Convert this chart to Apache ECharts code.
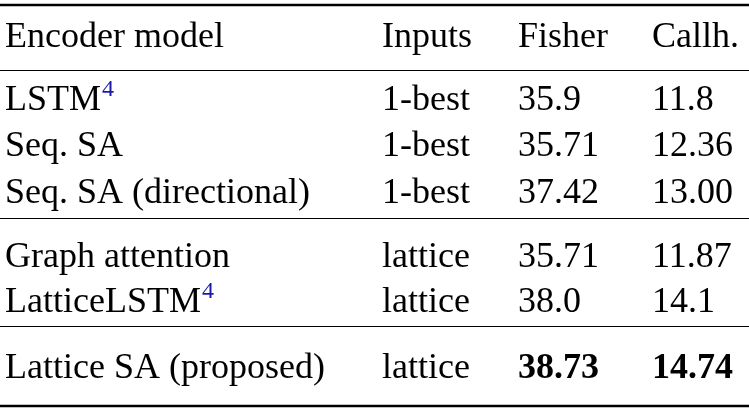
<!DOCTYPE html>
<html><head><meta charset="utf-8">
<script src="https://cdn.jsdelivr.net/npm/echarts@6/dist/echarts.min.js"></script>
<style>html,body{margin:0;padding:0;background:#fff}#c{width:749px;height:412px}</style>
</head><body><div id="c"></div>
<script>
const headers = ["Encoder model", "Inputs", "Fisher", "Callh."];
const models = ["LSTM", "Seq. SA", "Seq. SA (directional)", "Graph attention", "LatticeLSTM", "Lattice SA (proposed)"];
const footnotes = ["4", "", "", "", "4", ""];
const inputs = ["1-best", "1-best", "1-best", "lattice", "lattice", "lattice"];
const fisher = ["35.9", "35.71", "37.42", "35.71", "38.0", "38.73"];
const callh = ["11.8", "12.36", "13.00", "11.87", "14.1", "14.74"];
const boldRows = [5];

const FONT = "Liberation Serif";
const FS = 36;
const colX = [5, 382, 518, 652];
const headerY = 38;
const rowY = [101, 147, 194, 258, 303, 369];
const rules = [[5, 2.4], [70.5, 1.2], [218.5, 1.2], [326.5, 1.2], [406, 2.4]];

const ctx = document.createElement('canvas').getContext('2d');
function w(t, bold){ ctx.font = (bold?'bold ':'') + FS + 'px "' + FONT + '"'; return ctx.measureText(t).width; }

const g = [];
function txt(x, y, t, bold){
  g.push({type:'text', x:x, y:y, style:{text:t, font:(bold?'bold ':'')+FS+'px "'+FONT+'"', fill:'#000', textVerticalAlign:'middle'}});
}
headers.forEach((h,i)=>txt(colX[i], headerY, h, false));
models.forEach((m,r)=>{
  const b = boldRows.includes(r);
  txt(colX[0], rowY[r], m, false);
  if (footnotes[r]) {
    g.push({type:'text', x: colX[0]+w(m,false)+1, y: rowY[r]-11,
      style:{text:footnotes[r], font:'24px "'+FONT+'"', fill:'#1a1aa6', textVerticalAlign:'middle'}});
  }
  txt(colX[1], rowY[r], inputs[r], false);
  txt(colX[2], rowY[r], fisher[r], b);
  txt(colX[3], rowY[r], callh[r], b);
});
rules.forEach(([y,lw])=>g.push({type:'line', shape:{x1:0,y1:y,x2:749,y2:y}, style:{stroke:'#000', lineWidth:lw}}));

const chart = echarts.init(document.getElementById('c'));
chart.setOption({backgroundColor:'#fff', animation:false, graphic:{elements:g}});
</script></body></html>
